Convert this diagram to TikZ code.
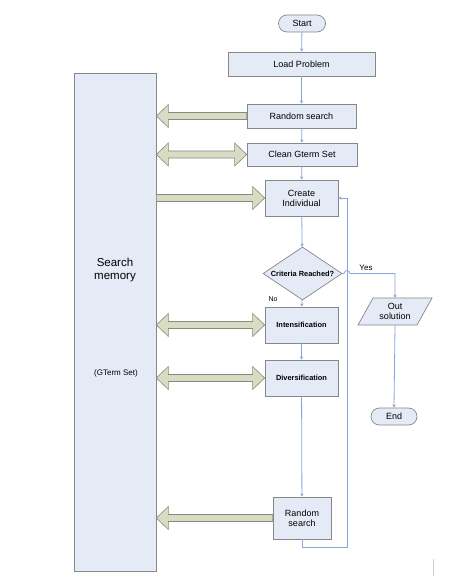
\documentclass[tikz,border=0pt]{standalone}
\usepackage{fontspec}
\setmainfont{Liberation Sans}
\usetikzlibrary{shapes.geometric,calc,arrows.meta}
\definecolor{boxfill}{RGB}{228,234,246}
\definecolor{boxline}{RGB}{135,135,135}
\definecolor{connc}{RGB}{135,165,218}
\definecolor{blkfill}{RGB}{216,220,196}
\definecolor{blkline}{RGB}{135,140,115}
\tikzset{
  procbox/.style={draw=boxline,fill=boxfill,line width=0.7pt,inner sep=0pt,align=center,font=\fontsize{9}{10}\selectfont},
  boldbox/.style={procbox,font=\fontsize{7.4}{8}\selectfont\bfseries},
  termbox/.style={procbox,rounded corners=8.5pt},
  conn/.style={draw=connc,line width=0.8pt,-{Stealth[length=3.2pt,width=3.2pt]}},
  blockarrow/.style={draw=blkline,fill=blkfill,line width=0.6pt,line join=miter},
  lbl/.style={inner sep=0pt,font=\fontsize{8}{9}\selectfont}
}
% block arrow pointing left: tip at memory, tail at node #1
\newcommand{\arrLeft}[1]{%
  \path[blockarrow] let \p1=(mem.east), \p2=(#1.west) in
  (\x2,{\y2+3.5pt}) -- ({\x1+12pt},{\y2+3.5pt}) -- ({\x1+12pt},{\y2+11.5pt}) -- (\x1,\y2)
  -- ({\x1+12pt},{\y2-11.5pt}) -- ({\x1+12pt},{\y2-3.5pt}) -- (\x2,{\y2-3.5pt}) -- cycle;}
% block arrow pointing right: flat at memory, tip at node #1
\newcommand{\arrRight}[1]{%
  \path[blockarrow] let \p1=(mem.east), \p2=(#1.west) in
  (\x1,{\y2+3.5pt}) -- ({\x2-12pt},{\y2+3.5pt}) -- ({\x2-12pt},{\y2+11.5pt}) -- (\x2,\y2)
  -- ({\x2-12pt},{\y2-11.5pt}) -- ({\x2-12pt},{\y2-3.5pt}) -- (\x1,{\y2-3.5pt}) -- cycle;}
% double block arrow
\newcommand{\arrBoth}[1]{%
  \path[blockarrow] let \p1=(mem.east), \p2=(#1.west) in
  ({\x1+12pt},{\y2+3.5pt}) -- ({\x2-12pt},{\y2+3.5pt}) -- ({\x2-12pt},{\y2+11.5pt}) -- (\x2,\y2)
  -- ({\x2-12pt},{\y2-11.5pt}) -- ({\x2-12pt},{\y2-3.5pt}) -- ({\x1+12pt},{\y2-3.5pt})
  -- ({\x1+12pt},{\y2-11.5pt}) -- (\x1,\y2) -- ({\x1+12pt},{\y2+11.5pt}) -- cycle;}
\begin{document}
\begin{tikzpicture}[x=1pt,y=-1pt]
\useasboundingbox (0,0) rectangle (474,577);
\fill[white] (0,0) rectangle (474,577);

% search memory
\node[procbox,minimum width=82pt,minimum height=498pt] (mem) at (115,322) {};
\node[inner sep=0pt,align=center,font=\fontsize{11.5}{12.5}\selectfont] (memtxt) at (115,270) {Search\\memory};
\node[inner sep=0pt,font=\fontsize{8}{9}\selectfont] (gterm) at (116,373) {(GTerm Set)};

% flow nodes
\node[termbox,minimum width=47pt,minimum height=17pt] (start) at (302,23.5) {Start};
\node[procbox,minimum width=147pt,minimum height=24pt] (load) at (301.5,64) {Load Problem};
\node[procbox,minimum width=109pt,minimum height=24pt] (rs1) at (301.5,116) {Random search};
\node[procbox,minimum width=110pt,minimum height=23pt] (clean) at (302,154.5) {Clean Gterm Set};
\node[procbox,minimum width=73pt,minimum height=36pt] (create) at (301.5,198) {Create\\Individual};
\node[boldbox,diamond,minimum width=79pt,minimum height=53pt,aspect=1.5] (diam) at (302.5,273.5) {Criteria Reached?};
\node[boldbox,minimum width=73pt,minimum height=36pt] (intens) at (301.5,325) {Intensification};
\node[boldbox,minimum width=73pt,minimum height=36pt] (divers) at (301.5,378) {Diversification};
\node[procbox,minimum width=58pt,minimum height=42pt] (rs2) at (302,518) {Random\\search};
\node[termbox,minimum width=46pt,minimum height=17pt] (endn) at (394,416.5) {End};

% out solution parallelogram
\path[draw=boxline,fill=boxfill,line width=0.7pt] (373,298) -- (432,298) -- (417,325) -- (358,325) -- cycle;
\node[inner sep=0pt,minimum width=59pt,minimum height=27pt,align=center,font=\fontsize{9}{10}\selectfont] (out) at (395,311.5) {Out\\solution};

% block arrows
\arrLeft{rs1}
\arrBoth{clean}
\arrRight{create}
\arrBoth{intens}
\arrBoth{divers}
\arrLeft{rs2}

% connectors
\draw[conn] (start) -- (load);
\draw[conn] (load) -- (rs1);
\draw[conn] (rs1) -- (clean);
\draw[conn] (clean) -- (create);
\draw[conn] (create) -- (diam);
\draw[conn] (diam) -- (intens);
\draw[conn] (intens) -- (divers);
\draw[conn] (divers) -- (rs2);
\coordinate (loopc) at (347,547);
\coordinate (hop) at ($(loopc|-diam.east)+(-3,0)$);
\draw[conn] (diam.east) -- (hop) arc[start angle=180,end angle=360,radius=3] -| (out.north);
\draw[conn] (out.south) -- (endn.north);
\draw[conn] (rs2.south) |- (loopc) |- (create.east);

% labels
\node[lbl] (yes) at (366,268) {Yes};
\node[lbl,font=\fontsize{7}{8}\selectfont] (no) at (273,299) {No};

% small mark
\draw[gray!35,line width=0.8pt] (433,559) -- (433,576);
\end{tikzpicture}
\end{document}
